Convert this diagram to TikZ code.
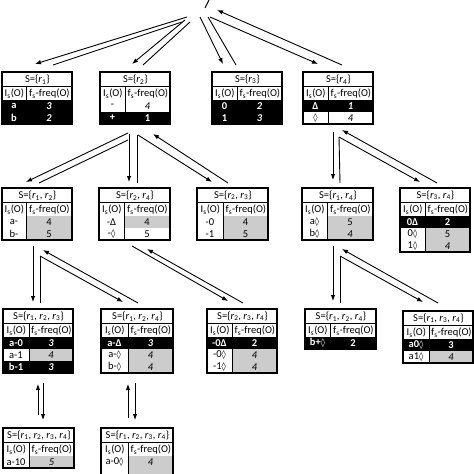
\documentclass[tikz,border=0pt]{standalone}
\usepackage{fontspec}
\setmainfont{Carlito}
\newfontfamily\dvfont{DejaVu Sans}
\usetikzlibrary{calc,arrows.meta}

\newcommand{\dl}{Δ}
\newcommand{\lz}{{\dvfont\fontsize{8.5}{9}\selectfont ◊}}
\newcommand{\rr}[1]{\textit{r}\textsubscript{#1}}
% name, x, y, width, split, rows, header, cells
\newcommand{\stab}[8]{%
  \node[tbox, minimum width=#4pt, minimum height={(28+12*#6)*1pt}] (#1) at (#2,#3) {};
  \node[hcell, minimum width=#4pt] (#1-h) at (#2,#3) {S=\{#7\}};
  \node[hcell, minimum width=#5pt] (#1-i) at (#2,{#3+14}) {I\textsubscript{s}(O)};
  \node[hcell, minimum width={(#4-#5)*1pt}] (#1-f) at ({#2+#5},{#3+14}) {f\textsubscript{s}-freq(O)};
  \foreach \l/\v/\fa/\fb [count=\k] in {#8} {
    \node[cell, \fa, minimum width=#5pt] (#1-\k-l) at (#2,{#3+16+12*\k}) {\l};
    \node[cell, \fb, minimum width={(#4-#5)*1pt}] (#1-\k-v) at ({#2+#5},{#3+16+12*\k}) {\v};
  }
  \draw[rule] (#1-i.north east) -- (#1-i.north east |- #1.south);
  \draw[frame] (#1.north west) rectangle (#1.south east);
}

\begin{document}
\begin{tikzpicture}[x=1pt, y=-1pt,
  every node/.style={font=\fontsize{10.5}{11}\selectfont},
  tbox/.style={inner sep=0pt, outer sep=0pt, anchor=north west},
  hcell/.style={draw, line width=0.8pt, fill=white, inner sep=0pt, minimum height=14pt, anchor=north west},
  cell/.style={inner sep=0pt, outer sep=0pt, minimum height=12pt, anchor=north west},
  blk/.style={fill=black, text=white, font=\fontsize{10.5}{11}\selectfont\bfseries},
  gry/.style={fill=gray!40},
  wht/.style={fill=white},
  rule/.style={line width=0.8pt},
  frame/.style={line width=1.2pt},
  arr/.style={line width=0.9pt, -{Latex[length=6pt,width=4.5pt]}},
  ln/.style={line width=0.9pt}]
  \useasboundingbox (0,0) rectangle (474,474);

  \stab{t1}{2}{72}{70}{24}{2}{\rr{1}}{a/\textit{3}/blk/blk, b/\textit{2}/blk/blk}
  \stab{t2}{100}{72}{70}{25}{2}{\rr{2}}{-/\textit{4}/wht/wht, +/1/blk/blk}
  \stab{t3}{212}{72}{70}{25}{2}{\rr{3}}{0/\textit{2}/blk/blk, 1/\textit{3}/blk/blk}
  \stab{t4}{303}{72}{70}{25}{2}{\rr{4}}{\dl/\textit{1}/blk/blk, \lz/\textit{4}/wht/wht}

  \stab{m12}{2}{188}{70}{24}{2}{\rr{1}, \rr{2}}{a-/4/wht/gry, b-/5/wht/gry}
  \stab{m24}{99}{188}{71}{25}{2}{\rr{2}, \rr{4}}{-\dl/4/wht/gry, -\lz/5/wht/wht}
  \stab{m23}{197}{188}{71}{26}{2}{\rr{2}, \rr{3}}{-0/4/wht/gry, -1/5/wht/gry}
  \stab{m14}{302}{188}{71}{25}{2}{\rr{1}, \rr{4}}{a\lz/5/wht/gry, b\lz/\textit{4}/wht/gry}
  \stab{m34}{400}{188}{70}{25}{3}{\rr{3}, \rr{4}}{0\dl/2/blk/blk, 0\lz/5/wht/gry, 1\lz/\textit{4}/wht/gry}

  \stab{b123}{3}{309}{70}{26}{3}{\rr{1}, \rr{2}, \rr{3}}{a-0/\textit{3}/blk/blk, a-1/\textit{4}/wht/gry, b-1/\textit{3}/blk/blk}
  \stab{b124}{101}{309}{72}{27}{3}{\rr{1}, \rr{2}, \rr{4}}{a-\dl/\textit{3}/blk/blk, a-\lz/\textit{4}/wht/gry, b-\lz/\textit{4}/wht/gry}
  \stab{b234}{207}{309}{70}{25}{3}{\rr{2}, \rr{3}, \rr{4}}{-0\dl/2/blk/blk, -0\lz/\textit{4}/wht/gry, -1\lz/\textit{4}/wht/gry}
  \stab{c124}{305}{309}{71}{25}{1}{\rr{1}, \rr{2}, \rr{4}}{b+\lz/2/blk/blk}
  \stab{b134}{403}{311}{70}{26}{2}{\rr{1}, \rr{3}, \rr{4}}{a0\lz/3/blk/blk, a1\lz/\textit{4}/wht/gry}

  \stab{l1}{3}{428}{71}{26}{1}{\rr{1}, \rr{2}, \rr{3}, \rr{4}}{a-10/\textit{5}/wht/gry}
  \stab{l2}{101}{428}{72}{27}{2}{\rr{1}, \rr{2}, \rr{3}, \rr{4}}{a-0\lz/\textit{4}/wht/gry, {}/{}/wht/gry}

  \coordinate (root) at (205,8);
  \draw[ln] (root) -- ($(root)+(4,-8)$);
  % root to single sets
  \draw[arr] ($(root)+(-18,9)$) -- ($(t1.north west)+(33,-8)$);
  \draw[ln] ($(t1.north west)+(51,-7)$) -- ($(root)+(-23,14)$);
  \draw[arr] ($(root)+(-20,12)$) -- ($(t2.north west)+(32,-8)$);
  \draw[ln] ($(t2.north west)+(43,-7)$) -- ($(root)+(-15,14)$);
  \draw[arr] ($(root)+(-5,9)$) -- ($(t3.north west)+(11,-8)$);
  \draw[ln] ($(t3.north west)+(24,-7)$) -- ($(root)+(3,9)$);
  \draw[arr] ($(root)+(5,9)$) -- ($(t4.north west)+(15,-8)$);
  \draw[arr] ($(t4.north west)+(39,-7)$) -- ($(root)+(12,2)$);
  % pairs
  \draw[arr] ($(t2.south west)+(28,9)$) -- ($(m12.north west)+(24,-6)$);
  \draw[ln] ($(m12.north west)+(37,-5)$) -- ($(t2.south west)+(28,16)$);
  \draw[arr] ($(t2.south west)+(29,10)$) -- ($(m24.north west)+(30,-6)$);
  \draw[ln] ($(m24.north west)+(38,-5)$) -- ($(t2.south west)+(37,11)$);
  \draw[arr] ($(t2.south west)+(38,11)$) -- ($(m23.north west)+(15,-6)$);
  \draw[arr] ($(m23.north west)+(31,-5)$) -- ($(t2.south west)+(53,10)$);
  \draw[arr] ($(t4.south west)+(30,8)$) -- ($(m14.north west)+(31,-8)$);
  \draw[ln] ($(m14.north west)+(38,-5)$) -- ($(t4.south west)+(36,13)$);
  \draw[arr] ($(t4.south west)+(36,13)$) -- ($(m34.north west)+(20,-6)$);
  \draw[arr] ($(m34.north west)+(37,-5)$) -- ($(t4.south west)+(39,6)$);
  % triples
  \draw[arr] ($(m12.south west)+(31,6)$) -- ($(b123.north west)+(30,-7)$);
  \draw[ln] ($(b123.north west)+(37,-6)$) -- ($(m12.south west)+(38,16)$);
  \draw[arr] ($(m12.south west)+(38,16)$) -- ($(b124.north west)+(22,-7)$);
  \draw[arr] ($(b124.north west)+(37,-6)$) -- ($(m12.south west)+(41,10)$);
  \draw[arr] ($(m24.south west)+(33,6)$) -- ($(b234.north west)+(21,-8)$);
  \draw[arr] ($(b234.north west)+(36,-6)$) -- ($(m24.south west)+(48,9)$);
  \draw[arr] ($(m14.south west)+(31,6)$) -- ($(c124.north west)+(28,-8)$);
  \draw[ln] ($(c124.north west)+(35,-6)$) -- ($(m14.south west)+(38,16)$);
  \draw[arr] ($(m14.south west)+(38,16)$) -- ($(b134.north west)+(20,-9)$);
  \draw[arr] ($(b134.north west)+(35,-8)$) -- ($(m14.south west)+(40,9)$);
  % full set
  \draw[arr] ($(b123.south west)+(40,10)$) -- ($(l1.north west)+(40,-8)$);
  \draw[arr] ($(l1.north west)+(35,-13)$) -- ($(b123.south west)+(35,11)$);
  \draw[arr] ($(b124.south west)+(34,10)$) -- ($(l2.north west)+(34,-8)$);
  \draw[arr] ($(l2.north west)+(27,-10)$) -- ($(b124.south west)+(27,11)$);
\end{tikzpicture}
\end{document}
